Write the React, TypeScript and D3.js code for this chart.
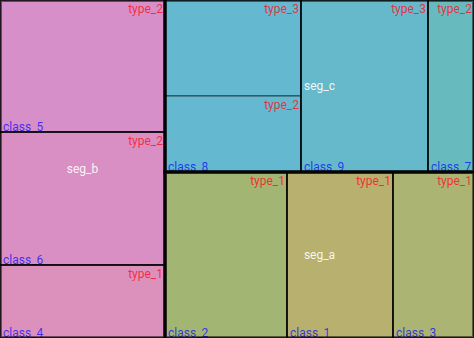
import React from "react";
import * as d3 from "d3";

const W = 474;
const H = 338;

const segments = ["seg_b", "seg_c", "seg_a"];
const classes = ["class_5", "class_6", "class_4", "class_8", "class_9", "class_7", "class_2", "class_1", "class_3"];
const classSeg = ["seg_b", "seg_b", "seg_b", "seg_c", "seg_c", "seg_c", "seg_a", "seg_a", "seg_a"];
const classColors = ["#d68fc8", "#d98fc3", "#dc91bd", "#64b8d0", "#66b9ca", "#67bbbf", "#a3b573", "#b7b06f", "#abb473"];
// tiles: class, type, value
const tileClass = ["class_5", "class_6", "class_4", "class_8", "class_8", "class_9", "class_7", "class_2", "class_1", "class_3"];
const tileType = ["type_2", "type_2", "type_1", "type_3", "type_2", "type_3", "type_2", "type_1", "type_1", "type_1"];
const tileValue = [21780, 21945, 12045, 13056, 10336, 21844, 7912, 20252, 17596, 13446];

type Node = { name: string; level: string; color?: string; value?: number; children?: Node[] };

function buildTree(): Node {
  return {
    name: "root",
    level: "root",
    children: segments.map((s) => ({
      name: s,
      level: "seg",
      children: classes
        .map((c, i) => ({ c, i }))
        .filter((d) => classSeg[d.i] === s)
        .map(({ c, i }) => ({
          name: c,
          level: "class",
          color: classColors[i],
          children: tileClass
            .map((tc, j) => ({ tc, j }))
            .filter((d) => d.tc === c)
            .map(({ j }) => ({ name: tileType[j], level: "tile", color: classColors[i], value: tileValue[j] })),
        })),
    })),
  };
}

export default function App() {
  const root = d3.hierarchy<Node>(buildTree()).sum((d) => d.value || 0);
  d3.treemap<Node>().size([W, H]).tile(d3.treemapBinary).round(false)(root);
  const nodes = root.descendants() as d3.HierarchyRectangularNode<Node>[];
  const tiles = nodes.filter((n) => n.data.level === "tile");
  const cls = nodes.filter((n) => n.data.level === "class");
  const segs = nodes.filter((n) => n.data.level === "seg");
  const font = "Roboto, 'Noto Sans', sans-serif";
  return (
    <svg width={W} height={H} style={{ position: "absolute", left: 0, top: 0 }}>
      {tiles.map((t, i) => (
        <rect key={"t" + i} x={t.x0} y={t.y0} width={t.x1 - t.x0} height={t.y1 - t.y0} fill={t.data.color}
          stroke="rgba(0,0,0,0.6)" strokeWidth={1} />
      ))}
      {tiles.map((t, i) => (
        <text key={"tl" + i} x={t.x1 - 2} y={t.y0 + 13} textAnchor="end" fontFamily={font} fontSize={12}
          fill="#ff1020" fillOpacity={0.8}>{t.data.name}</text>
      ))}
      {cls.map((c, i) => (
        <text key={"cl" + i} x={c.x0 + 3} y={c.y1 - 1} fontFamily={font} fontSize={12}
          fill="#0000ff" fillOpacity={0.7}>{c.data.name}</text>
      ))}
      {cls.map((c, i) => (
        <rect key={"c" + i} x={c.x0} y={c.y0} width={c.x1 - c.x0} height={c.y1 - c.y0} fill="none"
          stroke="rgba(0,0,0,0.55)" strokeWidth={2} />
      ))}
      {segs.map((s, i) => (
        <rect key={"s" + i} x={s.x0} y={s.y0} width={s.x1 - s.x0} height={s.y1 - s.y0} fill="none"
          stroke="rgba(0,0,0,0.5)" strokeWidth={4} />
      ))}
      {segs.map((s, i) => (
        <text key={"sl" + i} x={(s.x0 + s.x1) / 2} y={(s.y0 + s.y1) / 2 + 4} textAnchor="middle" fontFamily={font}
          fontSize={12} fill="#ffffff" fillOpacity={0.9}>{s.data.name}</text>
      ))}
    </svg>
  );
}
